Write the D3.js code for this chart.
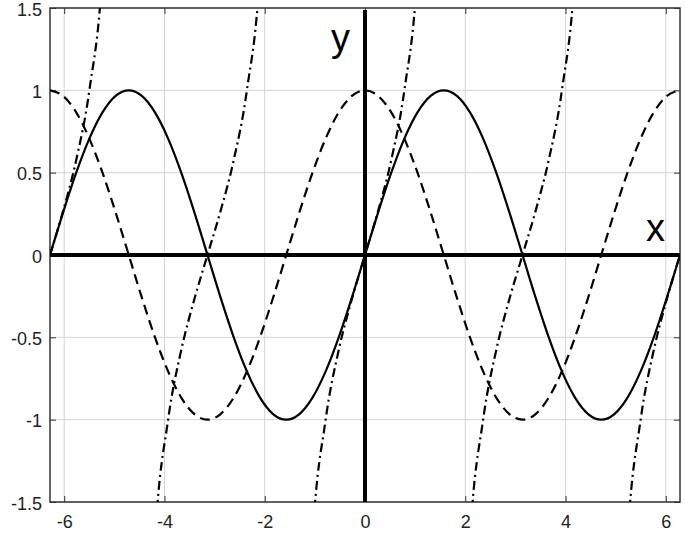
<!DOCTYPE html>
<html lang="en">
<head>
<meta charset="utf-8">
<title>sin cos tan</title>
<script src="https://cdn.jsdelivr.net/npm/d3@7"></script>
<style>
  body { margin: 0; background: #fff; }
  .tick text { font-family: "Liberation Sans", Arial, sans-serif; font-size: 18px; fill: #222; }
  .grid line { stroke: #d4d4d4; stroke-width: 1; }
  .curve { fill: none; stroke: #000; stroke-width: 2.2; }
</style>
</head>
<body>
<script>
// sample positions, radians, step pi/12 from -2pi to 2pi
var xs = [-6.283, -6.021, -5.760, -5.498, -5.236, -4.974, -4.712, -4.451, -4.189, -3.927, -3.665, -3.403,
          -3.142, -2.880, -2.618, -2.356, -2.094, -1.833, -1.571, -1.309, -1.047, -0.785, -0.524, -0.262,
          0, 0.262, 0.524, 0.785, 1.047, 1.309, 1.571, 1.833, 2.094, 2.356, 2.618, 2.880,
          3.142, 3.403, 3.665, 3.927, 4.189, 4.451, 4.712, 4.974, 5.236, 5.498, 5.760, 6.021, 6.283];

var sinVals = [0, .259, .5, .707, .866, .966, 1, .966, .866, .707, .5, .259,
               0, -.259, -.5, -.707, -.866, -.966, -1, -.966, -.866, -.707, -.5, -.259,
               0, .259, .5, .707, .866, .966, 1, .966, .866, .707, .5, .259,
               0, -.259, -.5, -.707, -.866, -.966, -1, -.966, -.866, -.707, -.5, -.259, 0];

var cosVals = [1, .966, .866, .707, .5, .259, 0, -.259, -.5, -.707, -.866, -.966,
               -1, -.966, -.866, -.707, -.5, -.259, 0, .259, .5, .707, .866, .966,
               1, .966, .866, .707, .5, .259, 0, -.259, -.5, -.707, -.866, -.966,
               -1, -.966, -.866, -.707, -.5, -.259, 0, .259, .5, .707, .866, .966, 1];

// null where tan has an asymptote
var tanVals = [0, .268, .577, 1, 1.732, 3.732, null, -3.732, -1.732, -1, -.577, -.268,
               0, .268, .577, 1, 1.732, 3.732, null, -3.732, -1.732, -1, -.577, -.268,
               0, .268, .577, 1, 1.732, 3.732, null, -3.732, -1.732, -1, -.577, -.268,
               0, .268, .577, 1, 1.732, 3.732, null, -3.732, -1.732, -1, -.577, -.268, 0];

var xTicks = [-6, -4, -2, 0, 2, 4, 6];
var yTicks = [-1.5, -1, -0.5, 0, 0.5, 1, 1.5];

var w = 685, h = 536;
var pLeft = 50, pRight = 680, pTop = 8, pBottom = 502;

var xScale = d3.scaleLinear().domain([-6.283, 6.283]).range([pLeft, pRight]);
var yScale = d3.scaleLinear().domain([-1.5, 1.5]).range([pBottom, pTop]);

var hyphen = function(d){ return String(d); };

var svg = d3.select("body").append("svg")
  .attr("width", w)
  .attr("height", h);

svg.append("defs").append("clipPath").attr("id", "plot")
  .append("rect")
  .attr("x", pLeft).attr("y", pTop)
  .attr("width", pRight - pLeft).attr("height", pBottom - pTop);

// grid
svg.append("g").attr("class", "grid")
  .selectAll("line").data(xTicks).enter().append("line")
  .attr("x1", d => xScale(d)).attr("x2", d => xScale(d))
  .attr("y1", pTop).attr("y2", pBottom);
svg.append("g").attr("class", "grid")
  .selectAll("line").data(yTicks).enter().append("line")
  .attr("x1", pLeft).attr("x2", pRight)
  .attr("y1", d => yScale(d)).attr("y2", d => yScale(d));

// axes (ticks inward)
var xAxis = d3.axisBottom(xScale).tickValues(xTicks).tickSizeInner(-6).tickSizeOuter(0).tickFormat(hyphen);
var yAxis = d3.axisLeft(yScale).tickValues(yTicks).tickSizeInner(-6).tickSizeOuter(0).tickPadding(8)
  .tickFormat(hyphen);

var gx = svg.append("g").attr("transform", "translate(0," + pBottom + ")").call(xAxis);
var gy = svg.append("g").attr("transform", "translate(" + pLeft + ",0)").call(yAxis);
var gxt = svg.append("g").attr("transform", "translate(0," + pTop + ")")
  .call(d3.axisTop(xScale).tickValues(xTicks).tickSizeInner(-6).tickSizeOuter(0).tickFormat(""));
var gyr = svg.append("g").attr("transform", "translate(" + pRight + ",0)")
  .call(d3.axisRight(yScale).tickValues(yTicks).tickSizeInner(-6).tickSizeOuter(0).tickFormat(""));
[gx, gy, gxt, gyr].forEach(function(g){
  g.select(".domain").remove();
  g.selectAll(".tick line").attr("stroke", "#333");
});
gx.selectAll(".tick text").attr("y", 26).attr("dy", 0);
gy.selectAll(".tick text").attr("dy", "0.4em");

// frame
svg.append("rect")
  .attr("x", pLeft).attr("y", pTop)
  .attr("width", pRight - pLeft).attr("height", pBottom - pTop)
  .attr("fill", "none").attr("stroke", "#333").attr("stroke-width", 1.5);

// main axes through origin
svg.append("line")
  .attr("x1", pLeft).attr("x2", pRight)
  .attr("y1", yScale(0)).attr("y2", yScale(0))
  .attr("stroke", "#000").attr("stroke-width", 4);
svg.append("line")
  .attr("x1", xScale(0)).attr("x2", xScale(0))
  .attr("y1", pTop + 2).attr("y2", pBottom)
  .attr("stroke", "#000").attr("stroke-width", 4);

// curves
var line = d3.line()
  .defined(d => d.y !== null)
  .x(d => xScale(d.x))
  .y(d => yScale(d.y))
  .curve(d3.curveMonotoneX);

function pts(vals){ return xs.map((x, i) => ({x: x, y: vals[i]})); }

var plot = svg.append("g").attr("clip-path", "url(#plot)");
plot.append("path").attr("class", "curve").attr("d", line(pts(sinVals)));
plot.append("path").attr("class", "curve").attr("stroke-dasharray", "10,6").attr("d", line(pts(cosVals)));
plot.append("path").attr("class", "curve").attr("stroke-dasharray", "9,4,2,4").attr("d", line(pts(tanVals)));

// axis letters
svg.append("text").attr("x", 331).attr("y", 51)
  .style("font-family", "Liberation Sans, Arial, sans-serif").style("font-size", "38px").text("y");
svg.append("text").attr("x", 646).attr("y", 241)
  .style("font-family", "Liberation Sans, Arial, sans-serif").style("font-size", "38px").text("x");
</script>
</body>
</html>
